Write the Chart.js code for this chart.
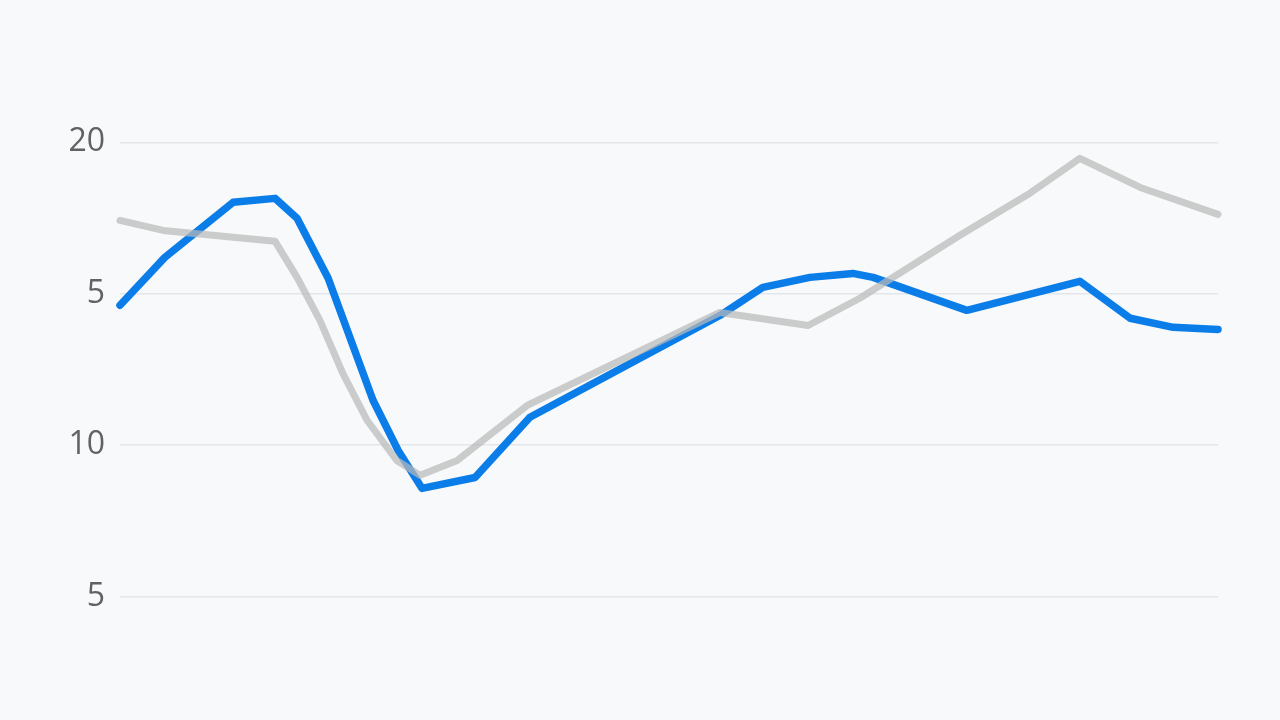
<!DOCTYPE html>
<html>
<head>
<meta charset="utf-8">
<script src="https://cdn.jsdelivr.net/npm/chart.js@4/dist/chart.umd.min.js"></script>
<style>
  html, body { margin: 0; padding: 0; width: 1280px; height: 720px; overflow: hidden; background: #f7f9fb; }
  #wrap { position: absolute; left: 0; top: -49px; width: 1280px; height: 831px; }
</style>
</head>
<body>
<div id="wrap"><canvas id="c"></canvas></div>
<script>
// Y axis ticks (values and the labels shown in the picture)
const yTickValues = [0, 5, 10, 15, 20, 25];
const yTickLabels = ["", "5", "10", "5", "20", "30"];

// Blue series: x positions (periods) and values
const blueX = [0, 0.98, 2.47, 3.39, 3.87, 4.55, 5.53, 6.08, 6.60, 7.76, 8.96, 13.11, 14.05, 15.08, 16.02, 16.46, 18.51, 20.98, 22.08, 23.02, 24];
const blueY = [14.62, 16.20, 18.02, 18.15, 17.49, 15.51, 11.48, 9.82, 8.57, 8.93, 10.92, 14.28, 15.21, 15.54, 15.67, 15.54, 14.45, 15.41, 14.19, 13.89, 13.82];

// Gray series: x positions (periods) and values
const grayX = [0, 0.94, 3.39, 3.87, 4.37, 4.87, 5.40, 6.05, 6.56, 7.37, 8.90, 13.11, 15.04, 16.17, 18.36, 19.89, 20.98, 22.30, 24];
const grayY = [17.42, 17.09, 16.73, 15.54, 14.12, 12.37, 10.82, 9.49, 9.00, 9.49, 11.31, 14.38, 13.95, 14.85, 16.93, 18.32, 19.47, 18.51, 17.62];

const toPts = (xs, ys) => xs.map((x, i) => ({ x: x, y: ys[i] }));

new Chart(document.getElementById('c'), {
  type: 'line',
  data: {
    datasets: [
      {
        data: toPts(grayX, grayY),
        borderColor: 'rgba(185,185,185,0.72)',
        borderWidth: 7,
        pointRadius: 0,
        tension: 0,
        borderCapStyle: 'round',
        borderJoinStyle: 'round',
        order: 0
      },
      {
        data: toPts(blueX, blueY),
        borderColor: '#0b7de8',
        borderWidth: 7.5,
        pointRadius: 0,
        tension: 0,
        borderCapStyle: 'round',
        borderJoinStyle: 'round',
        order: 1
      }
    ]
  },
  options: {
    responsive: true,
    maintainAspectRatio: false,
    animation: false,
    clip: false,
    layout: { padding: { top: 40, bottom: 20, left: 0, right: 62 } },
    plugins: { legend: { display: false }, tooltip: { enabled: false } },
    scales: {
      x: { type: 'linear', min: 0, max: 24, display: false },
      y: {
        type: 'linear',
        min: 0, max: 25,
        afterFit: (s) => { s.width = 120; },
        afterBuildTicks: (s) => { s.ticks = yTickValues.map(v => ({ value: v })); },
        border: { display: false },
        grid: { color: '#e3e7ec', lineWidth: 1.5, drawTicks: false },
        ticks: {
          padding: 15,
          color: '#626262',
          font: { family: 'Open Sans', size: 32 },
          callback: (v) => { const i = yTickValues.indexOf(v); return i >= 0 ? yTickLabels[i] : ''; }
        }
      }
    }
  }
});
</script>
</body>
</html>
